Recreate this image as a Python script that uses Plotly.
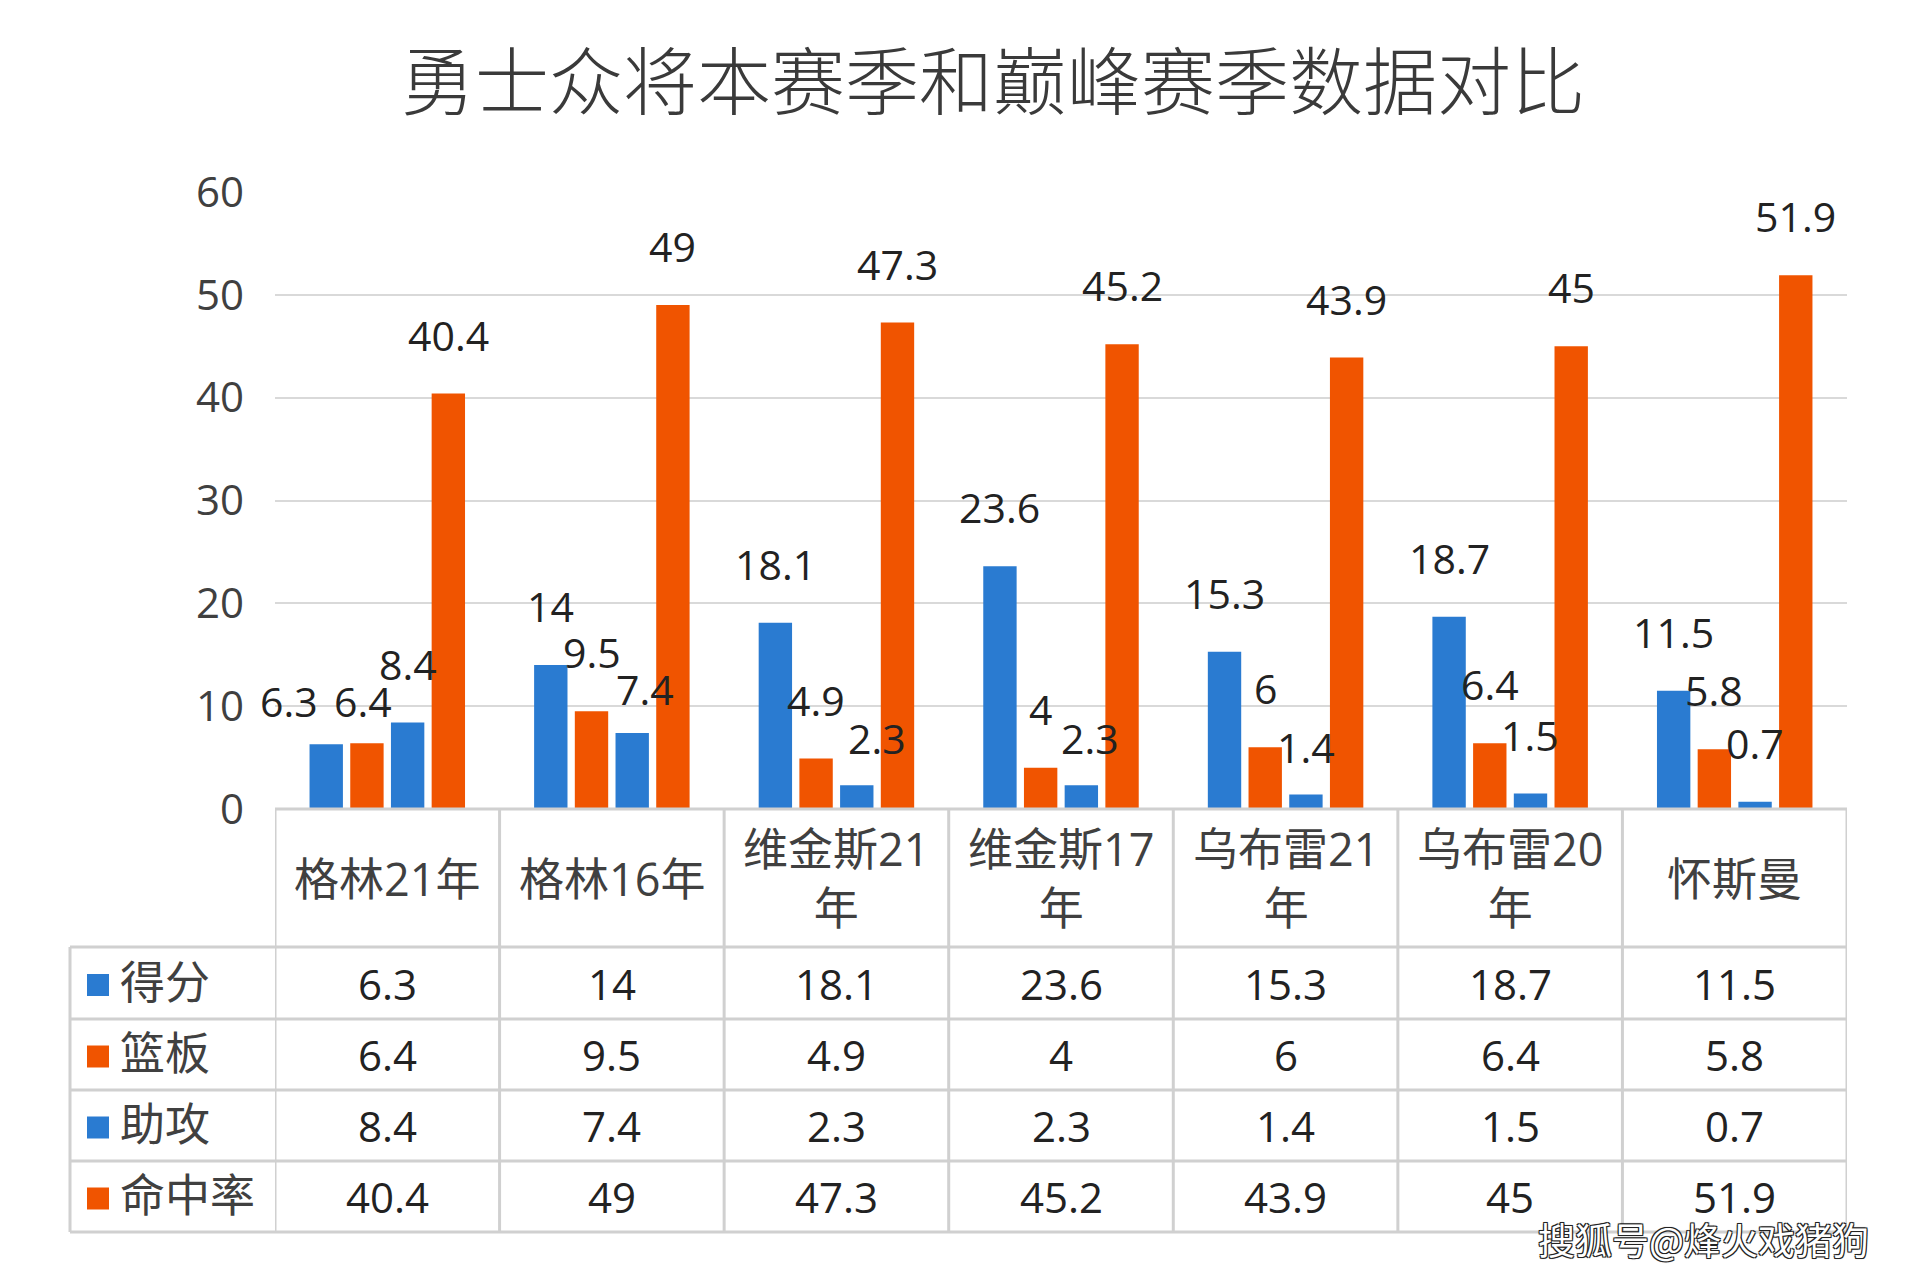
import plotly.graph_objects as go

# ---------------- data ----------------
players = ["格林21年", "格林16年", "维金斯21年", "维金斯17年", "乌布雷21年", "乌布雷20年", "怀斯曼"]
header_labels = ["格林21年", "格林16年", "维金斯21<br>年", "维金斯17<br>年", "乌布雷21<br>年", "乌布雷20<br>年", "怀斯曼"]
series_names = ["得分", "篮板", "助攻", "命中率"]
points = [6.3, 14, 18.1, 23.6, 15.3, 18.7, 11.5]
rebounds = [6.4, 9.5, 4.9, 4, 6, 6.4, 5.8]
assists = [8.4, 7.4, 2.3, 2.3, 1.4, 1.5, 0.7]
fg_pct = [40.4, 49, 47.3, 45.2, 43.9, 45, 51.9]
y_ticks = [0, 10, 20, 30, 40, 50, 60]
title_text = "勇士众将本赛季和巅峰赛季数据对比"
watermark = "搜狐号@烽火戏猪狗"

series_values = [points, rebounds, assists, fg_pct]

# ---------------- style / layout ----------------
BLUE = "#2A7BD1"
ORANGE = "#F05400"
series_colors = [BLUE, ORANGE, BLUE, ORANGE]
GRID = "#D9D9D9"
TABLE_LINE = "#D0D0D0"
TEXT = "#222222"
FONT = "Open Sans, Noto Sans CJK SC, sans-serif"

W, H = 1920, 1280
M_L, M_R, M_T, M_B = 275, 73, 192, 471
PLOT_W = W - M_L - M_R
PLOT_H = H - M_T - M_B
BARGAP = 0.275
BARGROUPGAP = 0.18
slot = (1 - BARGAP) / len(series_names)


def py2paper(py):
    return (H - M_B - py) / PLOT_H


def px2paper(px):
    return (px - M_L) / PLOT_W


fmt = lambda v: f"{v:g}"

fig = go.Figure()
for name, vals, col in zip(series_names, series_values, series_colors):
    fig.add_trace(go.Bar(
        x=players, y=vals, name=name, marker=dict(color=col, line=dict(width=0)),
        showlegend=False, hoverinfo="x+y+name",
    ))

annotations = []

# data labels (Excel-style: centred above each bar, a few nudged to avoid overlap)
label_nudge = {(0, 0): (-37, -16), (1, 0): (-4, -17), (2, 1): (13, -15),
               (2, 2): (20, -12), (2, 3): (9, -12), (2, 4): (0, -11)}
for k, vals in enumerate(series_values):
    for i, v in enumerate(vals):
        dx, dy = label_nudge.get((k, i), (0, 0))
        annotations.append(dict(
            x=i + (k - 1.5) * slot, y=v, xref="x", yref="y",
            text=fmt(v), showarrow=False, xanchor="center", yanchor="middle",
            xshift=dx, yshift=59 + dy,
            font=dict(family=FONT, size=41, color=TEXT),
        ))

# ---------------- data table under the chart ----------------
header_top, header_bot = 809, 947
row_edges = [947, 1019, 1090, 1161, 1232]
label_left = 70

shapes = []
n = len(players)
shapes.append(dict(type="line", xref="x", yref="paper", x0=-0.5, x1=n - 0.5,
                   y0=py2paper(header_top), y1=py2paper(header_top),
                   line=dict(color=TABLE_LINE, width=3)))
for ry in row_edges:
    shapes.append(dict(type="line", xref="paper", yref="paper",
                       x0=px2paper(label_left), x1=1,
                       y0=py2paper(ry), y1=py2paper(ry),
                       line=dict(color=TABLE_LINE, width=3)))
for b in range(n + 1):
    shapes.append(dict(type="line", xref="x", yref="paper", x0=b - 0.5, x1=b - 0.5,
                       y0=py2paper(header_top), y1=py2paper(row_edges[-1]),
                       line=dict(color=TABLE_LINE, width=3)))
shapes.append(dict(type="line", xref="paper", yref="paper",
                   x0=px2paper(label_left), x1=px2paper(label_left),
                   y0=py2paper(row_edges[0]), y1=py2paper(row_edges[-1]),
                   line=dict(color=TABLE_LINE, width=3)))

# header texts
for i, lab in enumerate(header_labels):
    annotations.append(dict(
        x=i, y=py2paper((header_top + header_bot) / 2), xref="x", yref="paper",
        text=lab, showarrow=False, xanchor="center", yanchor="middle",
        font=dict(family=FONT, size=45, color="#404040"),
    ))

# rows
for r, (name, vals, col) in enumerate(zip(series_names, series_values, series_colors)):
    cy = (row_edges[r] + row_edges[r + 1]) / 2
    shapes.append(dict(type="rect", xref="paper", yref="paper",
                       x0=px2paper(87), x1=px2paper(109),
                       y0=py2paper(cy + 13), y1=py2paper(cy - 9),
                       fillcolor=col, line=dict(width=0)))
    annotations.append(dict(
        x=px2paper(118), y=py2paper(cy - 2), xref="paper", yref="paper",
        text=name, showarrow=False, xanchor="left", yanchor="middle",
        font=dict(family=FONT, size=45, color="#404040"),
    ))
    for i, v in enumerate(vals):
        annotations.append(dict(
            x=i, y=py2paper(cy), xref="x", yref="paper",
            text=fmt(v), showarrow=False, xanchor="center", yanchor="middle",
            font=dict(family=FONT, size=42, color=TEXT),
        ))

# watermark
annotations.append(dict(
    x=px2paper(1871), y=py2paper(1239), xref="paper", yref="paper",
    text=watermark, showarrow=False, xanchor="right", yanchor="middle",
    font=dict(family="Noto Sans CJK SC", size=37, color="#FFFFFF",
              shadow="1px 1px 0 #222, -1px -1px 0 #222, 1px -1px 0 #222, -1px 1px 0 #222, 0 0 2px #000"),
))

fig.update_layout(
    width=W, height=H,
    margin=dict(l=M_L, r=M_R, t=M_T, b=M_B, pad=0),
    paper_bgcolor="white", plot_bgcolor="white",
    barmode="group", bargap=BARGAP, bargroupgap=BARGROUPGAP,
    title=dict(text=title_text, x=993 / W, y=1 - 83 / H, xref="container", yref="container",
               xanchor="center", yanchor="middle",
               font=dict(family="Noto Sans CJK SC", size=74, weight=300, color="#3A3A3A")),
    xaxis=dict(type="category", range=[-0.5, n - 0.5], showticklabels=False,
               showgrid=False, showline=False, zeroline=False, fixedrange=True),
    yaxis=dict(range=[0, 60], tickvals=y_ticks, showgrid=True, gridcolor=GRID, gridwidth=2,
               zeroline=False, showline=False, ticks="", ticklabelstandoff=30,
               tickfont=dict(family=FONT, size=42, color="#404040"), fixedrange=True),
    shapes=shapes,
    annotations=annotations,
)

fig.write_html("out.html")
